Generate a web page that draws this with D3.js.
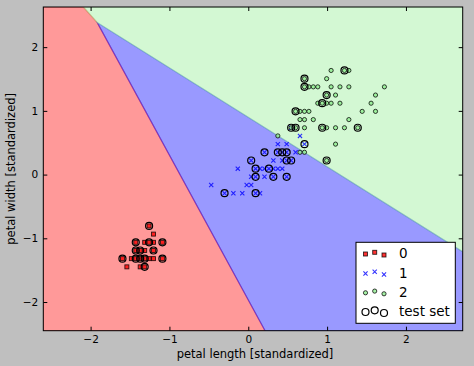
<!DOCTYPE html>
<html><head><meta charset="utf-8">
<script src="https://cdn.jsdelivr.net/npm/d3@7"></script>
<style>html,body{margin:0;padding:0;background:#bfbfbf;}svg{display:block;font-family:"DejaVu Sans",sans-serif;}</style>
</head><body>
<svg id="chart" width="474" height="366"></svg>
<script>
// ---- data (standardized petal length / width) ----
const xDomain = [-2.60, 2.72];
const yDomain = [-2.45, 2.63];
const xTicks = [-2, -1, 0, 1, 2];
const yTicks = [-2, -1, 0, 1, 2];
const classLabels = ["0", "1", "2"];
const regionColors = ["red", "blue", "lightgreen"];
// linear decision function per class: score = w0*x + w1*y + b
const weightX = [-2.272, 0, 1.114];
const weightY = [-1.0, 0, 1.436];
const bias = [-1.967, 0, -1.291];

const class0X = [-1.596,-1.540,-1.483,-1.427,-1.427,-1.427,-1.371,-1.371,-1.371,-1.314,-1.314,-1.314,-1.314,-1.258,-1.258,-1.258,-1.202,-1.202,-1.202,-1.202,-1.089,-1.089];
const class0Y = [-1.319,-1.448,-1.319,-1.319,-1.191,-1.063,-1.448,-1.319,-1.191,-1.448,-1.319,-1.191,-1.063,-1.319,-1.063,-0.806,-1.319,-1.191,-1.063,-0.934,-1.319,-1.063];
const class1X = [-0.470,-0.301,-0.189,-0.133,-0.076,-0.020,0.037,0.037,0.037,0.093,0.093,0.093,0.149,0.149,0.206,0.206,0.206,0.262,0.318,0.318,0.318,0.375,0.375,0.375,0.431,0.431,0.431,0.487,0.487,0.487,0.487,0.544,0.544,0.600,0.656,0.713];
const class1Y = [-0.164,-0.292,-0.292,0.093,-0.292,-0.164,-0.164,-0.035,0.221,-0.292,-0.035,0.093,-0.292,0.093,-0.035,0.093,0.350,0.093,-0.035,0.093,0.221,0.093,0.350,0.478,0.093,0.221,0.350,-0.035,0.221,0.350,0.478,0.221,0.735,0.350,0.607,0.478];
const class2X = [0.375,0.544,0.600,0.600,0.656,0.656,0.656,0.713,0.713,0.713,0.713,0.713,0.713,0.769,0.769,0.825,0.825,0.882,0.882,0.938,0.938,0.994,0.994,0.994,0.994,0.994,1.051,1.051,1.051,1.107,1.107,1.107,1.163,1.163,1.220,1.220,1.276,1.276,1.276,1.389,1.445,1.558,1.614,1.614,1.727];
const class2Y = [0.607,0.735,0.735,0.992,0.350,0.863,0.992,0.350,0.735,0.863,0.992,1.377,1.505,0.992,1.377,0.863,1.377,1.120,1.377,0.735,1.120,0.221,0.735,1.120,1.248,1.505,1.120,1.377,1.634,0.478,0.735,1.248,1.120,1.377,0.735,1.634,0.863,1.377,1.634,0.735,0.992,1.120,0.992,1.248,1.377];
const testX = [-1.258,-1.427,-1.258,-1.089,-1.427,-1.371,-1.202,-1.596,-1.427,-1.371,-1.314,-1.089,-1.314,
  -0.301,0.093,0.037,0.206,0.093,0.262,0.093,0.318,0.487,0.375,0.431,0.487,0.487,0.544,0.713,
  0.713,0.713,0.994,0.938,0.600,0.544,0.600,0.938,1.389,1.220,0.994];
const testY = [-0.806,-1.063,-1.063,-1.063,-1.191,-1.191,-1.191,-1.319,-1.319,-1.319,-1.319,-1.319,-1.448,
  -0.292,-0.292,0.221,0.350,0.093,0.093,-0.035,-0.035,-0.035,0.350,0.350,0.350,0.221,0.221,0.478,
  1.505,1.377,1.248,1.120,0.992,0.735,0.735,0.735,0.735,1.634,0.221];
const legendLabels = ["0", "1", "2", "test set"];
const xLabel = "petal length [standardized]";
const yLabel = "petal width [standardized]";

// ---- layout ----
const L = 43.3, R = 462.7, T = 7, B = 330.7;
const svg = d3.select("#chart");
const x = d3.scaleLinear().domain(xDomain).range([L, R]);
const y = d3.scaleLinear().domain(yDomain).range([B, T]);

svg.append("rect").attr("width", 474).attr("height", 366).attr("fill", "#bfbfbf");
svg.append("defs").append("clipPath").attr("id", "plotclip")
  .append("rect").attr("x", L).attr("y", T).attr("width", R - L).attr("height", B - T);
svg.append("rect").attr("x", L).attr("y", T).attr("width", R - L).attr("height", B - T).attr("fill", "white");

// decision regions via half-plane clipping of the domain rectangle
function clip(poly, A, Bc, C) {
  const out = [];
  for (let i = 0; i < poly.length; i++) {
    const p = poly[i], q = poly[(i + 1) % poly.length];
    const fp = A * p[0] + Bc * p[1] + C, fq = A * q[0] + Bc * q[1] + C;
    if (fp >= 0) out.push(p);
    if ((fp >= 0) !== (fq >= 0)) {
      const t = fp / (fp - fq);
      out.push([p[0] + t * (q[0] - p[0]), p[1] + t * (q[1] - p[1])]);
    }
  }
  return out;
}
const rect = [[xDomain[0], yDomain[0]], [xDomain[1], yDomain[0]], [xDomain[1], yDomain[1]], [xDomain[0], yDomain[1]]];
const regions = classLabels.map((c, k) => {
  let poly = rect;
  classLabels.forEach((c2, j) => {
    if (j === k) return;
    poly = clip(poly, weightX[k] - weightX[j], weightY[k] - weightY[j], bias[k] - bias[j]);
  });
  return {k, poly};
});
const line = d3.line().x(d => x(d[0])).y(d => y(d[1]));
const gReg = svg.append("g").attr("clip-path", "url(#plotclip)");
gReg.selectAll("path.region").data(regions).join("path")
  .attr("class", "region")
  .attr("d", d => line(d.poly) + "Z")
  .attr("fill", d => regionColors[d.k]).attr("fill-opacity", 0.4)
  .attr("stroke", d => regionColors[d.k]).attr("stroke-opacity", 0.4).attr("stroke-width", 1.2);

// ---- markers ----
const gPts = svg.append("g").attr("clip-path", "url(#plotclip)");
const sq = 4.0, xs = 2.1, cr = 2.1, tr = 3.5;
function drawSquares(g, xs_, ys_) {
  g.selectAll(null).data(d3.range(xs_.length)).join("rect")
    .attr("x", i => x(xs_[i]) - sq / 2).attr("y", i => y(ys_[i]) - sq / 2)
    .attr("width", sq).attr("height", sq)
    .attr("fill", "red").attr("fill-opacity", 0.8)
    .attr("stroke", "black").attr("stroke-opacity", 0.8).attr("stroke-width", 0.9);
}
function drawCrosses(g, xs_, ys_) {
  g.selectAll(null).data(d3.range(xs_.length)).join("path")
    .attr("d", i => { const cx = x(xs_[i]), cy = y(ys_[i]);
      return `M${cx - xs},${cy - xs}L${cx + xs},${cy + xs}M${cx - xs},${cy + xs}L${cx + xs},${cy - xs}`; })
    .attr("stroke", "blue").attr("stroke-opacity", 0.8).attr("stroke-width", 1.1).attr("fill", "none");
}
function drawCircles(g, xs_, ys_) {
  g.selectAll(null).data(d3.range(xs_.length)).join("circle")
    .attr("cx", i => x(xs_[i])).attr("cy", i => y(ys_[i])).attr("r", cr)
    .attr("fill", "lightgreen").attr("fill-opacity", 0.8)
    .attr("stroke", "black").attr("stroke-opacity", 0.75).attr("stroke-width", 1);
}
function drawTest(g, xs_, ys_) {
  g.selectAll(null).data(d3.range(xs_.length)).join("circle")
    .attr("cx", i => x(xs_[i])).attr("cy", i => y(ys_[i])).attr("r", tr)
    .attr("fill", "none").attr("stroke", "black").attr("stroke-width", 1.2);
}
drawSquares(gPts.append("g"), class0X, class0Y);
drawCrosses(gPts.append("g"), class1X, class1Y);
drawCircles(gPts.append("g"), class2X, class2Y);
drawTest(gPts.append("g"), testX, testY);

// ---- axes (ticks inside on all four sides) ----
const fmt = d3.format("");
const ax = svg.append("g").attr("transform", `translate(0,${B})`)
  .call(d3.axisBottom(x).tickValues(xTicks).tickSizeInner(-4).tickSizeOuter(0).tickPadding(4.5).tickFormat(fmt));
const axT = svg.append("g").attr("transform", `translate(0,${T})`)
  .call(d3.axisTop(x).tickValues(xTicks).tickSizeInner(-4).tickSizeOuter(0).tickFormat(""));
const ay = svg.append("g").attr("transform", `translate(${L},0)`)
  .call(d3.axisLeft(y).tickValues(yTicks).tickSizeInner(-4).tickSizeOuter(0).tickPadding(5).tickFormat(fmt));
const ayR = svg.append("g").attr("transform", `translate(${R},0)`)
  .call(d3.axisRight(y).tickValues(yTicks).tickSizeInner(-4).tickSizeOuter(0).tickFormat(""));
[ax, axT, ay, ayR].forEach(g => {
  g.select(".domain").remove();
  g.selectAll(".tick line").attr("stroke", "black").attr("stroke-width", 1);
  g.selectAll(".tick text").attr("fill", "black").attr("font-size", 10.5).attr("font-family", "DejaVu Sans");
});
svg.append("rect").attr("x", L).attr("y", T).attr("width", R - L).attr("height", B - T)
  .attr("fill", "none").attr("stroke", "black").attr("stroke-width", 1);

svg.append("text").attr("x", (L + R) / 2 + 2).attr("y", 357.5).attr("text-anchor", "middle")
  .attr("font-size", 11.5).attr("fill", "black").text(xLabel);
svg.append("text").attr("transform", `translate(15,${(T + B) / 2}) rotate(-90)`).attr("text-anchor", "middle")
  .attr("font-size", 11.5).attr("fill", "black").text(yLabel);

// ---- legend ----
const lg = svg.append("g");
lg.append("rect").attr("x", 356).attr("y", 242.3).attr("width", 99.3).attr("height", 81)
  .attr("fill", "white").attr("stroke", "black").attr("stroke-width", 1);
const rowY = [253.5, 273, 292.3, 311.5];
const mx = [365.5, 374.7, 384];
const my = [0.5, -1.2, 1.5];
legendLabels.forEach((lab, r) => {
  const xsArr = mx.map(v => x.invert(v));
  const ysArr = my.map(v => y.invert(rowY[r] + v));
  const g = lg.append("g");
  if (r === 0) drawSquares(g, xsArr, ysArr);
  else if (r === 1) drawCrosses(g, xsArr, ysArr);
  else if (r === 2) drawCircles(g, xsArr, ysArr);
  else drawTest(g, xsArr, ysArr);
  lg.append("text").attr("x", 399).attr("y", rowY[r]).attr("dy", "0.36em")
    .attr("font-size", 13.5).attr("fill", "black").text(lab);
});
</script>
</body></html>
